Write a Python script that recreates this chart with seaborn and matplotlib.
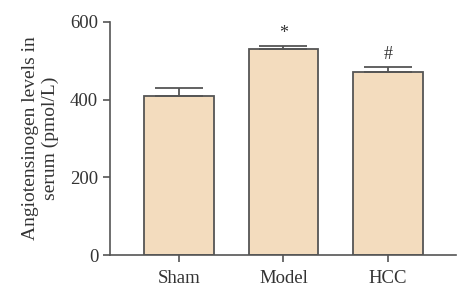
import matplotlib
matplotlib.use('Agg')
import matplotlib.pyplot as plt
import numpy as np
import pandas as pd
import seaborn as sns

groups = ['Sham', 'Model', 'HCC']
means = [408, 530, 472]
sems = [23, 8, 13]
marks = ['', '*', '#']

sns.set_style('ticks')
plt.rcParams['font.family'] = ['Liberation Serif', 'DejaVu Serif']

df = pd.DataFrame({'group': groups, 'value': means})

fig = plt.figure(figsize=(4.74, 3.0), dpi=100)
ax = fig.add_axes([0.232, 0.15, 0.731, 0.777])

sns.barplot(data=df, x='group', y='value', color='#F3DCBE', edgecolor='#555555',
            linewidth=1.3, width=0.67, errorbar=None, saturation=1, ax=ax)

x = np.arange(len(groups))
ax.errorbar(x, means, yerr=[np.zeros(len(sems)), sems], fmt='none',
            ecolor='#555555', elinewidth=1.3, capsize=17, capthick=1.3)

for xi, m, s, mk in zip(x, means, sems, marks):
    if mk:
        ax.text(xi, m + s + 10, mk, ha='center', va='bottom', fontsize=13, color='#333333')

ax.set_xlim(-0.665, 2.66)
ax.set_ylim(0, 600)
ax.set_yticks([0, 200, 400, 600])
ax.set_xlabel('')
ax.set_ylabel('Angiotensinogen levels in\nserum (pmol/L)', fontsize=14, color='#333333',
              linespacing=1.2, labelpad=8)
ax.tick_params(labelsize=13.5, colors='#555555', labelcolor='#333333', width=1.2, length=5)
ax.tick_params(axis='x', pad=6)
for side in ['left', 'bottom']:
    ax.spines[side].set_color('#555555')
    ax.spines[side].set_linewidth(1.2)
sns.despine(ax=ax)

fig.savefig('out.png', dpi=100)
